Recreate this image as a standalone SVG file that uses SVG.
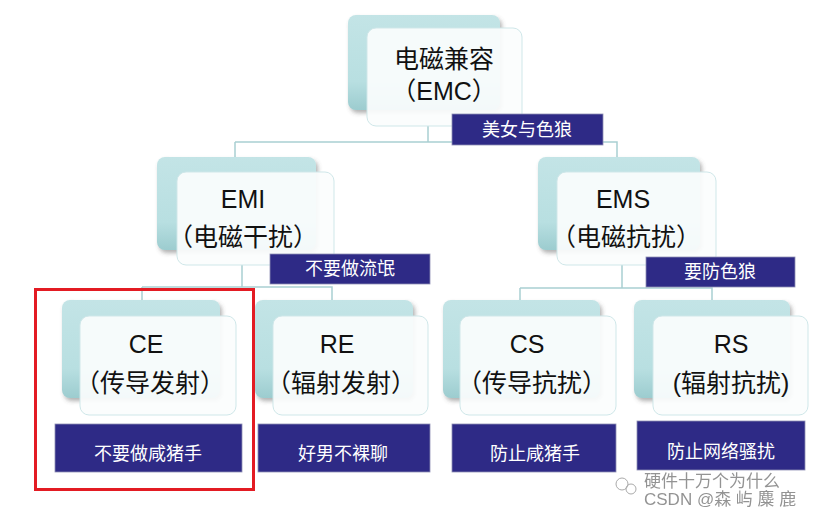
<svg xmlns="http://www.w3.org/2000/svg" width="829" height="519" viewBox="0 0 829 519">
<defs>
<linearGradient id="tg" x1="0" y1="0" x2="0" y2="1"><stop offset="0" stop-color="#c3e4e6"/><stop offset="0.7" stop-color="#b8dfe1"/><stop offset="1" stop-color="#9ccccf"/></linearGradient>
<filter id="sh" x="-10%" y="-10%" width="130%" height="130%"><feDropShadow dx="2" dy="3" stdDeviation="2" flood-color="#555" flood-opacity="0.45"/></filter>
</defs>
<style>
.back{fill:url(#tg);filter:url(#sh)}
.front{fill:#fbfdfd;fill-opacity:0.92;stroke:#cfe7e9;stroke-width:1}
.lab{fill:#2e2a86;stroke:#8f8fb5;stroke-width:0.8}
.t{font-family:"Liberation Sans","Noto Sans CJK SC",sans-serif;font-size:25px;fill:#111;text-anchor:middle}
.l{font-family:"Noto Sans CJK SC",sans-serif;font-size:18px;fill:#fff;text-anchor:middle}
.c{fill:none;stroke:#a9cfd2;stroke-width:1.5}
.w{font-family:"Liberation Sans","Noto Sans CJK SC",sans-serif;font-size:17px;fill:#888;opacity:0.9}
</style>
<rect width="829" height="519" fill="#fff"/>
<g id="connectors">
<path class="c" d="M428 126V142M235 142H617V157M235 142V157"/>
<path class="c" d="M242 265V287M142 287H332V300M142 287V300"/>
<path class="c" d="M622 265V288M520 288H712V300M520 288V300"/>
</g>
<g id="emc"><rect class="back" x="348" y="15" width="152" height="95" rx="8"/><rect class="front" x="367" y="28" width="155" height="98" rx="9"/>
<text class="t" x="444" y="68">电磁兼容</text><text class="t" x="444" y="100">（EMC）</text>
<rect class="lab" x="452" y="114" width="151" height="31"/><text class="l" x="527" y="136">美女与色狼</text></g>
<g id="emi"><rect class="back" x="157" y="157" width="159" height="93" rx="8"/><rect class="front" x="177" y="172" width="157" height="93" rx="9"/>
<text class="t" x="243" y="208">EMI</text><text class="t" x="243" y="246">（电磁干扰）</text>
<rect class="lab" x="270" y="254" width="160" height="30"/><text class="l" x="350" y="275">不要做流氓</text></g>
<g id="ems"><rect class="back" x="538" y="157" width="162" height="93" rx="8"/><rect class="front" x="557" y="172" width="159" height="93" rx="9"/>
<text class="t" x="623" y="208">EMS</text><text class="t" x="626" y="246">（电磁抗扰）</text>
<rect class="lab" x="646" y="257" width="149" height="30"/><text class="l" x="720" y="278">要防色狼</text></g>
<g id="ce"><rect class="back" x="62" y="300" width="158" height="98" rx="8"/><rect class="front" x="80" y="316" width="156" height="99" rx="9"/>
<text class="t" x="146" y="353">CE</text><text class="t" x="150" y="392">（传导发射）</text>
<rect class="lab" x="55" y="424" width="187" height="48"/><text class="l" x="148" y="460">不要做咸猪手</text></g>
<g id="re"><rect class="back" x="255" y="300" width="158" height="98" rx="8"/><rect class="front" x="273" y="316" width="155" height="99" rx="9"/>
<text class="t" x="337" y="353">RE</text><text class="t" x="341" y="392">（辐射发射）</text>
<rect class="lab" x="258" y="424" width="172" height="48"/><text class="l" x="343" y="460">好男不裸聊</text></g>
<g id="cs"><rect class="back" x="443" y="300" width="157" height="98" rx="8"/><rect class="front" x="460" y="316" width="156" height="99" rx="9"/>
<text class="t" x="527" y="353">CS</text><text class="t" x="532" y="392">（传导抗扰）</text>
<rect class="lab" x="452" y="424" width="164" height="48"/><text class="l" x="535" y="460">防止咸猪手</text></g>
<g id="rs"><rect class="back" x="634" y="300" width="156" height="98" rx="8"/><rect class="front" x="653" y="316" width="155" height="99" rx="9"/>
<text class="t" x="731" y="353">RS</text><text class="t" x="731" y="392">(辐射抗扰)</text>
<rect class="lab" x="637" y="421" width="168" height="49"/><text class="l" x="721" y="458">防止网络骚扰</text></g>
<rect x="35.5" y="289.5" width="218" height="200" fill="none" stroke="#e31b23" stroke-width="3"/>
<g id="watermark"><circle cx="622" cy="484" r="6" fill="none" stroke="#aaa"/><circle cx="631" cy="489" r="5" fill="none" stroke="#aaa"/>
<text class="w" x="644" y="487">硬件十万个为什么</text><text class="w" x="644" y="505">CSDN @森 屿 麋 鹿</text></g>
</svg>
